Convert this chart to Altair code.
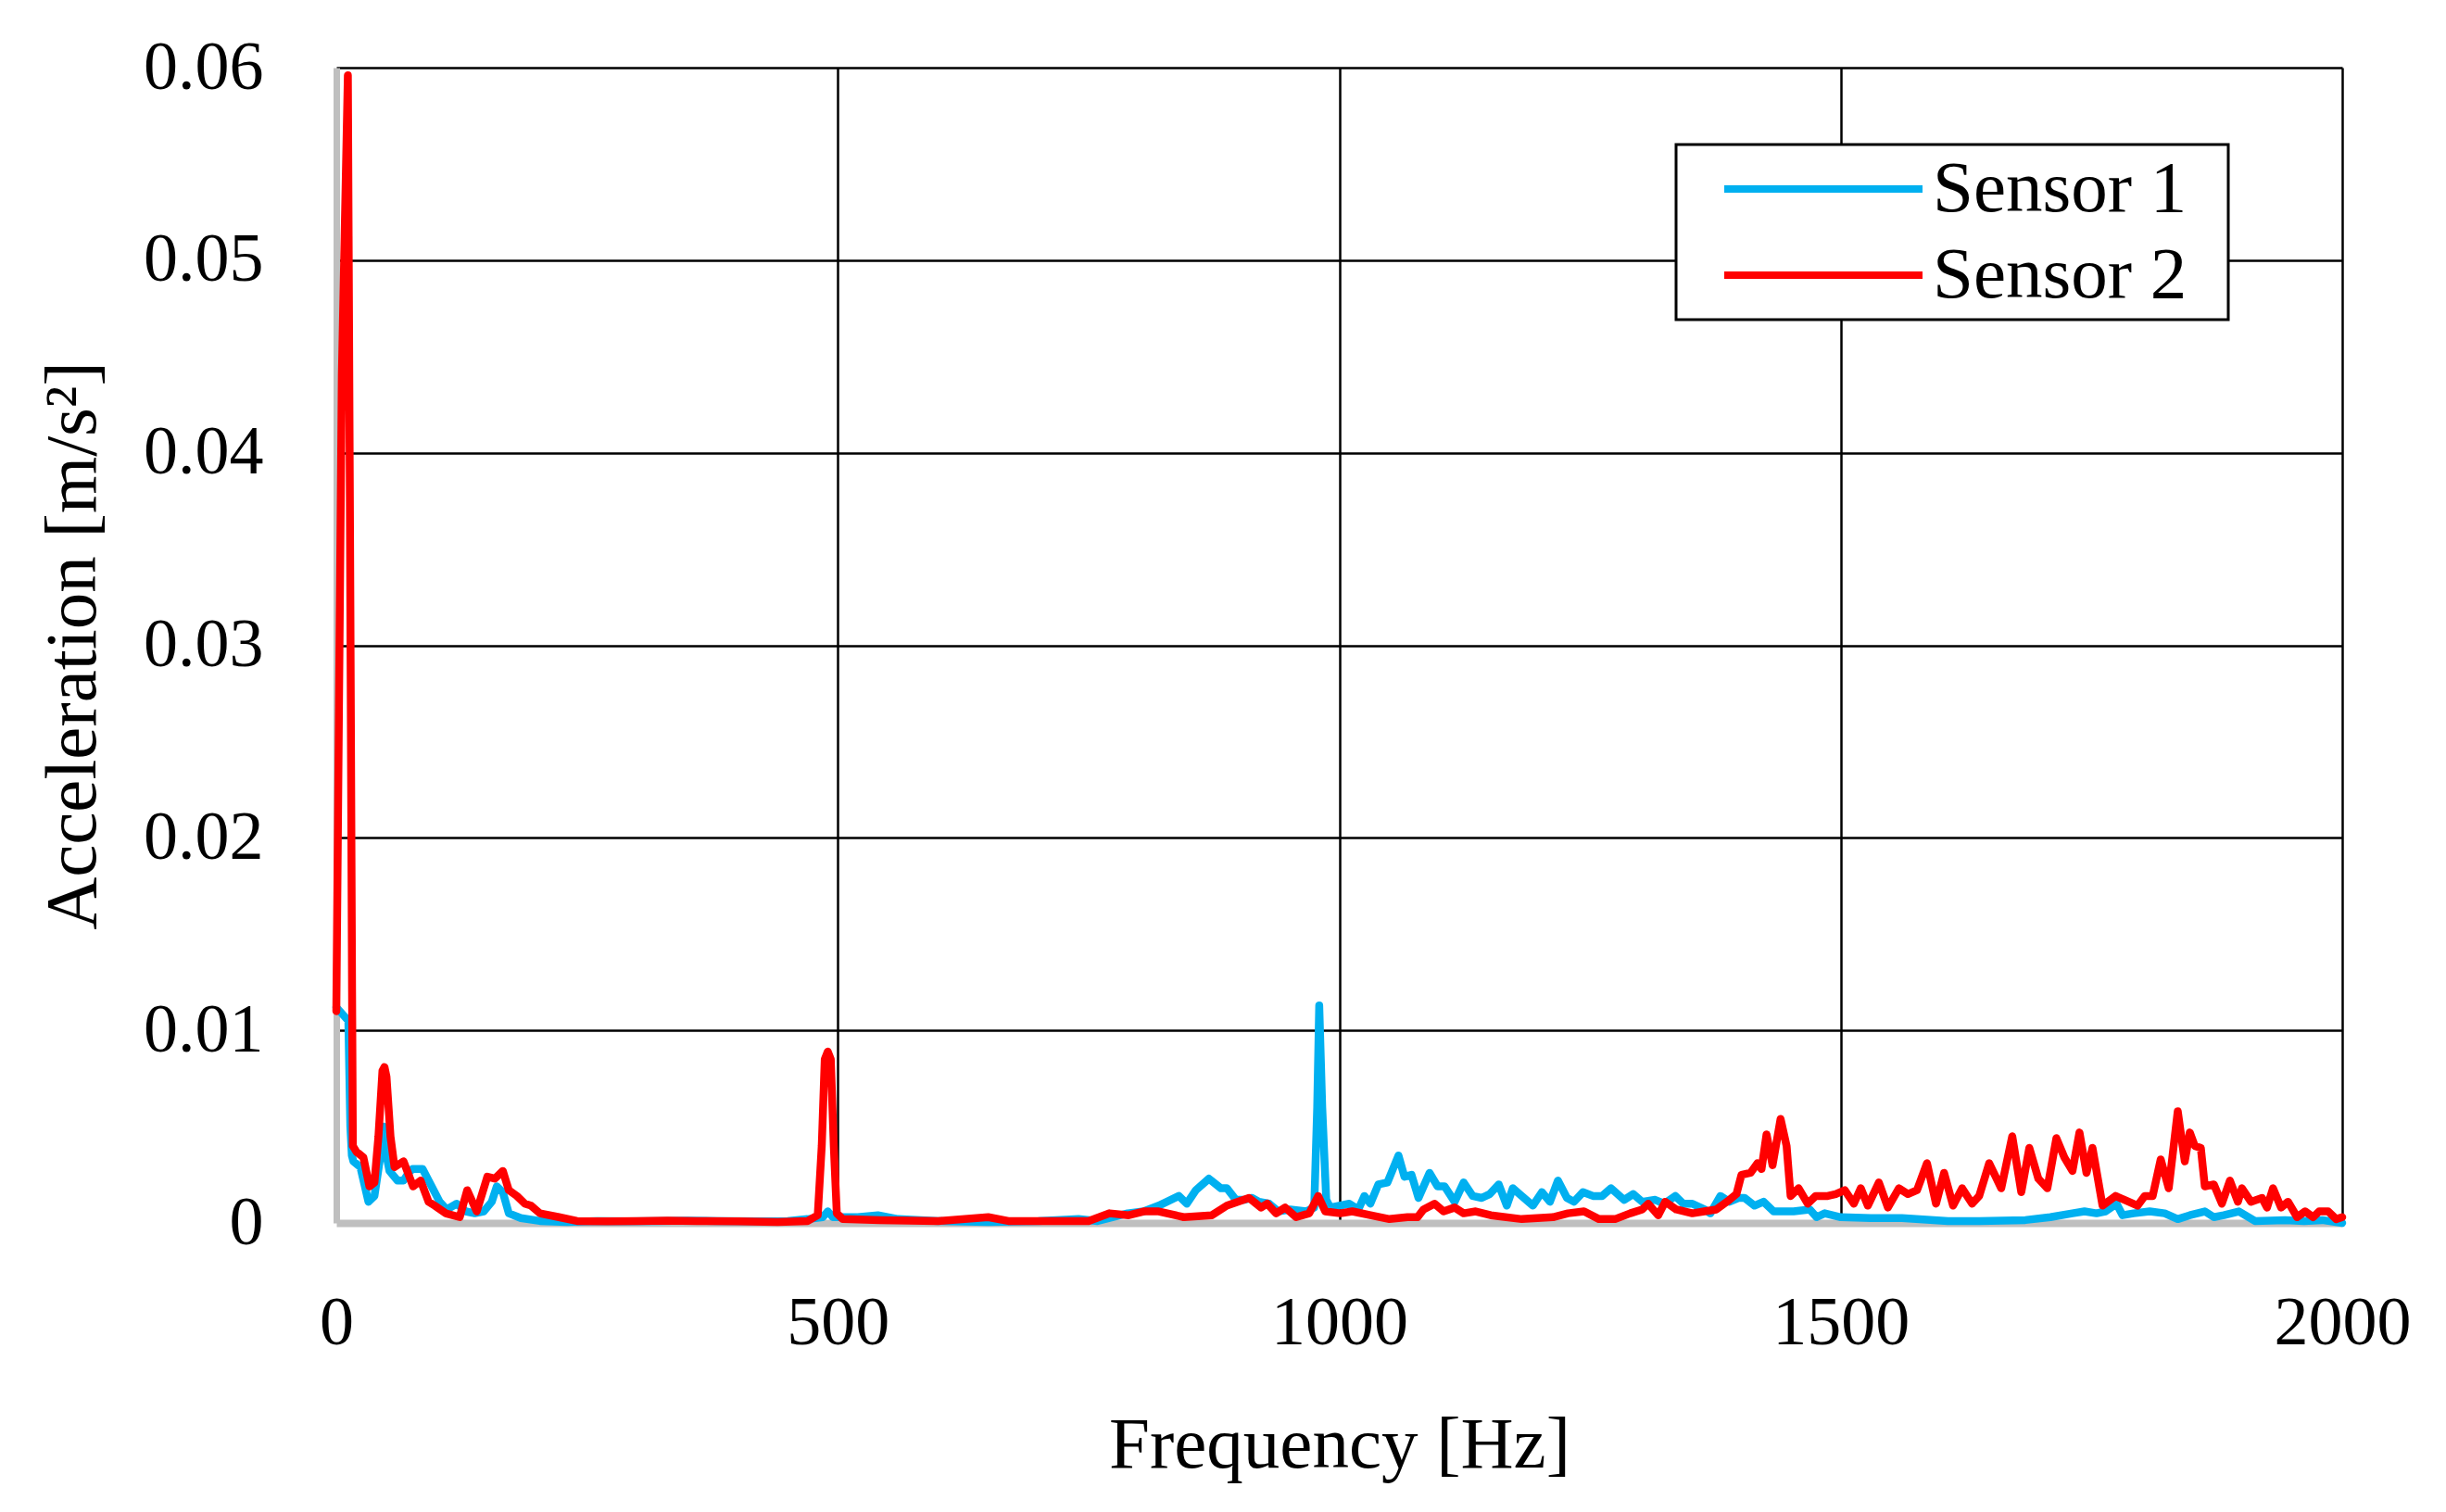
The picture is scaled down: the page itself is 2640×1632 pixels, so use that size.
import altair as alt
import pandas as pd

# ---- Sensor 1 (blue) ----
s1_freq = [0, 12, 14, 15.5, 17, 24, 32, 38, 44, 47, 50, 53, 61, 67, 72, 76, 86, 95, 103,
           110, 120, 129, 138, 147, 155, 160, 166, 172, 184, 203, 230, 260, 290, 320, 350, 380, 420,
           450, 470, 485, 490, 495, 505, 520, 540, 560, 600, 650, 700, 740, 759, 789, 805, 820, 840,
           848, 857, 870, 882, 888, 897, 905, 913, 920, 930, 939, 951, 967, 975, 978, 980, 983, 987,
           991, 1010, 1019, 1025, 1031, 1039, 1048, 1059, 1065, 1072, 1079, 1090, 1098, 1105, 1115,
           1124, 1133, 1142, 1150, 1159, 1167, 1173, 1182, 1193, 1202, 1210, 1218, 1227, 1234, 1243,
           1253, 1262, 1271, 1284, 1293, 1302, 1315, 1324, 1335, 1343, 1352, 1364, 1370, 1380, 1389,
           1398, 1404, 1414, 1423, 1433, 1444, 1453, 1469, 1476, 1484, 1500, 1530, 1561, 1607, 1638,
           1684, 1709, 1731, 1743, 1755, 1764, 1775, 1781, 1792, 1808, 1823, 1836, 1848, 1863, 1872,
           1882, 1897, 1913, 1943, 1962, 1980, 2000]
s1_acc = [0.0112, 0.0105, 0.0050, 0.0035, 0.0032, 0.0029, 0.0011, 0.0014, 0.0035, 0.0050, 0.0035,
          0.0027, 0.0022, 0.0022, 0.0026, 0.0028, 0.0028, 0.0019, 0.0011,
          0.0007, 0.0010, 0.0006, 0.0005, 0.0006, 0.0011, 0.0019, 0.0016, 0.0005, 0.00025, 0.0001,
          0.00005, 0.0001, 0.00008, 0.0001, 0.00012, 0.0001, 0.00008,
          0.0001, 0.0002, 0.0003, 0.0006, 0.0003, 0.0003, 0.0003, 0.0004, 0.0002, 0.0001, 0.00005,
          0.0001, 0.0002, 0.0001, 0.0005, 0.0006, 0.0009, 0.0014,
          0.0010, 0.0017, 0.0023, 0.0018, 0.0018, 0.0012, 0.0012, 0.0013, 0.0011, 0.0010, 0.0006,
          0.0007, 0.0006, 0.0008, 0.0060, 0.0113, 0.0060, 0.0012,
          0.0008, 0.0010, 0.0007, 0.0014, 0.0010, 0.0020, 0.0021, 0.0035, 0.0024, 0.0025, 0.0013,
          0.0026, 0.0019, 0.0019, 0.0011,
          0.0021, 0.0014, 0.0013, 0.0015, 0.0020, 0.0009, 0.0018, 0.0014, 0.0009, 0.0016, 0.0011,
          0.0022, 0.0013, 0.0011, 0.0016,
          0.0014, 0.0014, 0.0018, 0.0012, 0.0015, 0.0011, 0.0012, 0.0010, 0.0014, 0.0010, 0.0010,
          0.0007, 0.0005, 0.0014, 0.0011,
          0.0013, 0.0013, 0.0009, 0.0011, 0.0006, 0.0006, 0.0006, 0.0007, 0.0003, 0.0005, 0.0003,
          0.00025, 0.00025, 0.0001, 0.0001,
          0.00015, 0.0003, 0.0005, 0.0006, 0.0005, 0.0006, 0.0010, 0.0004, 0.0005, 0.0006, 0.0005,
          0.0002, 0.0004, 0.0006, 0.0003,
          0.0004, 0.0006, 0.0001, 0.00015, 0.0001, 0.00015, 0.0]

# ---- Sensor 2 (red) ----
s2_freq = [0, 5.5, 11.5, 14, 15.7, 16.5, 20, 27, 33, 38, 42, 46, 48, 50, 54, 58, 67, 76.5, 84, 92, 98,
           109, 123, 130.5, 140, 150.6, 158, 166, 172, 180, 188, 194, 203, 222, 240, 270, 300, 330,
           360, 400, 440, 470, 480, 484, 487, 490, 493, 496, 499, 505, 542, 600, 650, 670, 700, 750,
           771, 790, 805, 820, 845, 873, 888, 910, 922, 928, 937, 946, 957, 970, 979, 986, 1001,
           1013, 1031, 1050, 1068, 1078, 1084, 1095, 1104, 1115, 1124, 1136, 1151, 1182, 1213, 1228,
           1244, 1259, 1275, 1290, 1302, 1308, 1318, 1325, 1336, 1352, 1364, 1376, 1389, 1396, 1401,
           1410, 1417, 1421, 1426, 1432, 1440, 1446, 1450, 1458, 1467, 1475, 1487, 1495, 1504, 1513,
           1520, 1527, 1538, 1547, 1558, 1567, 1576, 1586, 1595, 1603, 1612, 1621, 1631, 1638, 1648,
           1660, 1671, 1680, 1688, 1697, 1706, 1715, 1723, 1731, 1738, 1745, 1751, 1761, 1774, 1783,
           1796, 1803, 1811, 1819, 1827, 1836, 1843, 1848, 1853, 1859, 1863, 1872, 1880, 1888, 1896,
           1900, 1909, 1920, 1925, 1931, 1939, 1946, 1955, 1963, 1971, 1977, 1986, 1994, 2000]
s2_acc = [0.011, 0.044, 0.0596, 0.032, 0.012, 0.0040, 0.0037, 0.0034, 0.0019, 0.0021, 0.0045, 0.0079,
          0.0081, 0.0076, 0.0045, 0.0029, 0.0032, 0.0019, 0.0022, 0.0011, 0.0009,
          0.0005, 0.0003, 0.0017, 0.0006, 0.0024, 0.0023, 0.0027, 0.0017, 0.0014, 0.0010, 0.0009,
          0.0005, 0.0003, 0.0001, 0.00008, 0.0001, 0.00012,
          0.0001, 0.00008, 0.00005, 0.0001, 0.0004, 0.0040, 0.0085, 0.0089, 0.0085, 0.0040, 0.0005,
          0.0002, 0.00015, 0.0001, 0.0003, 0.0001, 0.0001, 0.0001,
          0.0005, 0.0004, 0.0006, 0.0006, 0.0003, 0.0004, 0.0009, 0.0013, 0.0008, 0.0010, 0.0005,
          0.0008, 0.0003, 0.0005, 0.0014, 0.0006, 0.0005,
          0.0006, 0.0004, 0.0002, 0.0003, 0.0003, 0.0007, 0.0010, 0.0006, 0.0008, 0.0005, 0.0006,
          0.0004, 0.0002, 0.0003, 0.0005,
          0.0006, 0.0002, 0.0002, 0.0005, 0.0007, 0.0010, 0.0004, 0.0011, 0.0007, 0.0005, 0.0006,
          0.0007, 0.0012, 0.0015, 0.0025,
          0.0026, 0.0031, 0.0028, 0.0046, 0.0030, 0.0054, 0.0040, 0.0014, 0.0018, 0.0010, 0.0014,
          0.0014, 0.0015, 0.0017, 0.0010,
          0.0018, 0.0009, 0.0021, 0.0008, 0.0018, 0.0015, 0.0017, 0.0031, 0.0010, 0.0026, 0.0009,
          0.0018, 0.0010, 0.0014, 0.0031,
          0.0018, 0.0045, 0.0016, 0.0039, 0.0023, 0.0018, 0.0044, 0.0034, 0.0027, 0.0047, 0.0026,
          0.0039, 0.0009, 0.0014, 0.0012,
          0.0009, 0.0014, 0.0014, 0.0033, 0.0018, 0.0058, 0.0032, 0.0047, 0.0040, 0.0039, 0.0019,
          0.0020, 0.0010, 0.0022, 0.0011,
          0.0018, 0.0011, 0.0013, 0.0008, 0.0018, 0.0008, 0.0011, 0.0003, 0.0006, 0.0003, 0.0006,
          0.0006, 0.0002, 0.0003]

series_names = ["Sensor 1", "Sensor 2"]
series_colors = ["#00B0F0", "#FF0000"]
x_ticks = [0, 500, 1000, 1500, 2000]
y_ticks = [0, 0.01, 0.02, 0.03, 0.04, 0.05, 0.06]

df = pd.concat([
    pd.DataFrame({"freq": s1_freq, "acc": s1_acc, "sensor": series_names[0], "order": range(len(s1_freq))}),
    pd.DataFrame({"freq": s2_freq, "acc": s2_acc, "sensor": series_names[1], "order": range(len(s2_freq))}),
], ignore_index=True)

FONT = "Liberation Serif"

x_enc = alt.X("freq:Q", scale=alt.Scale(domain=[0, 2000], nice=False),
              axis=alt.Axis(values=x_ticks, format="d", title="Frequency [Hz]",
                            grid=True, gridColor="black", gridWidth=2.5,
                            gridOpacity={"condition": {"test": "datum.value === 0", "value": 0}, "value": 1},
                            ticks=False, tickSize=0, labelFlush=False,
                            domainColor="#BFBFBF", domainWidth=8,
                            labelFont=FONT, labelFontSize=74, labelColor="black",
                            labelBaseline="alphabetic", labelPadding=130,
                            titleFont=FONT, titleFontSize=79, titleFontWeight="normal",
                            titleColor="black", titleBaseline="alphabetic", titleY=263))
y_enc = alt.Y("acc:Q", scale=alt.Scale(domain=[0, 0.06], nice=False),
              axis=alt.Axis(values=y_ticks, title="Acceleration [m/s²]",
                            labelExpr="datum.value == 0 ? '0' : format(datum.value, '.2f')",
                            grid=True, gridColor="black", gridWidth=2.5,
                            gridOpacity={"condition": {"test": "datum.value === 0", "value": 0}, "value": 1},
                            ticks=False, tickSize=0, labelFlush=False,
                            domainColor="#BFBFBF", domainWidth=7,
                            labelFont=FONT, labelFontSize=74, labelColor="black",
                            labelAlign="right", labelBaseline="middle", labelPadding=79,
                            titleFont=FONT, titleFontSize=79, titleFontWeight="normal",
                            titleColor="black", titleAngle=270, titleBaseline="alphabetic",
                            titleX=-261, titleY=623.5))
color_enc = alt.Color("sensor:N",
                      scale=alt.Scale(domain=series_names, range=series_colors),
                      legend=alt.Legend(title="|", titleOpacity=0, titleFontSize=10,
                                        titleOrient="right", titlePadding=34,
                                        orient="none", legendX=1446, legendY=83,
                                        symbolType="stroke", symbolSize=45796, symbolStrokeWidth=8,
                                        symbolOffset=40, labelOffset=7, labelLimit=0,
                                        labelFont=FONT, labelFontSize=79, labelColor="black",
                                        clipHeight=80, rowPadding=13, padding=8,
                                        strokeColor="black", fillColor="white"))

base = alt.Chart(df).mark_line(strokeWidth=8.5, strokeJoin="round", strokeCap="round").encode(
    x=x_enc, y=y_enc, color=color_enc, order="order:Q")

chart = alt.layer(
    base.transform_filter(alt.datum.sensor == series_names[0]),
    base.transform_filter(alt.datum.sensor == series_names[1]),
).properties(
    width=2165, height=1247,
    autosize=alt.AutoSizeParams(type="none"),
    padding={"left": 355, "top": 65, "right": 100, "bottom": 290},
    background="white",
).configure_view(strokeWidth=0).configure_legend(strokeWidth=3)

chart.save("out.html", embed_options={"renderer": "svg", "actions": False})
